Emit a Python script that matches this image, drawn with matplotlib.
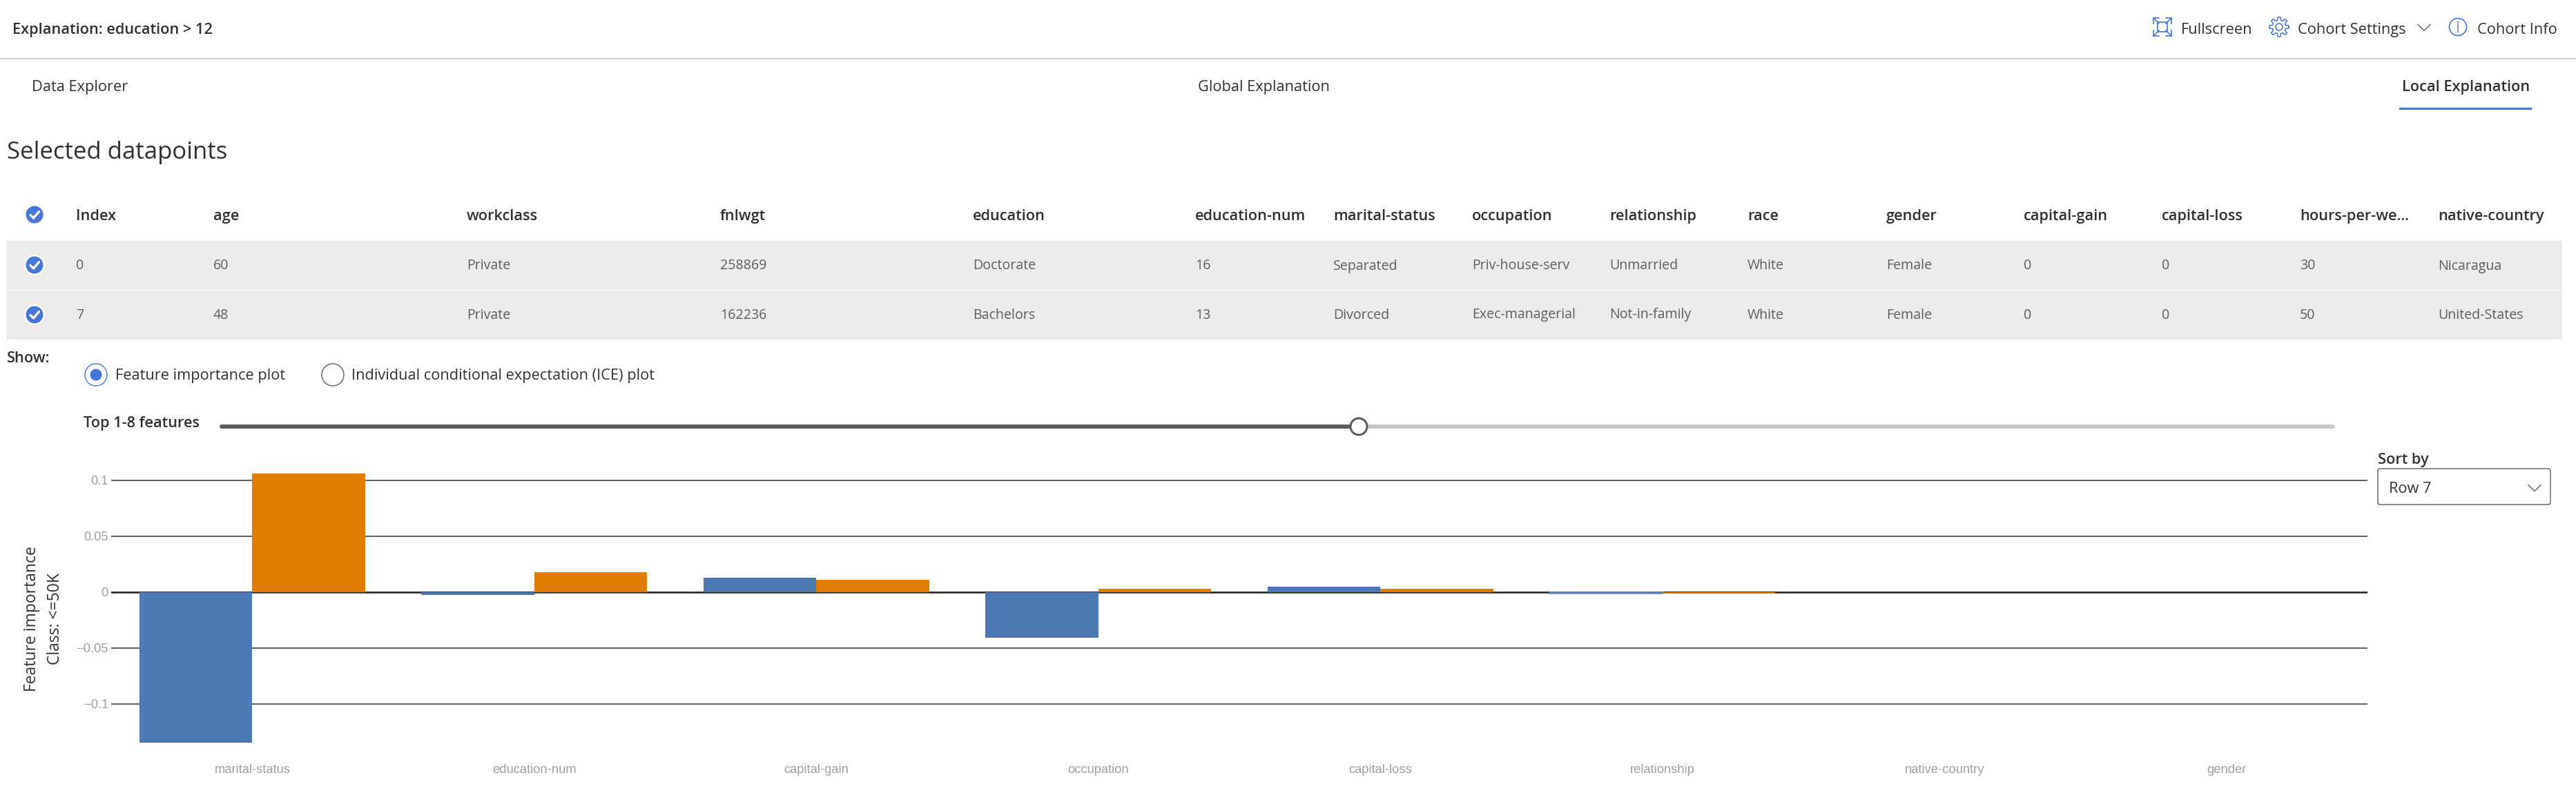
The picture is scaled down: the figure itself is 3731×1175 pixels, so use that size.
import matplotlib
matplotlib.use('Agg')
import matplotlib.pyplot as plt
import numpy as np
from matplotlib.patches import Circle, FancyBboxPatch, Rectangle

W, H = 3731, 1175
UI_FONT = 'Open Sans'
DARK = '#323130'
GREY = '#605e5c'
ACCENT = '#4777d6'

features = ['marital-status', 'education-num', 'capital-gain', 'occupation',
            'capital-loss', 'relationship', 'native-country', 'gender']
row_0 = [-0.135, -0.0025, 0.0128, -0.0406, 0.0048, -0.0013, 0, 0]
row_7 = [0.106, 0.0179, 0.0109, 0.003, 0.003, -0.0015, 0, 0]
y_ticks = [-0.1, -0.05, 0, 0.05, 0.1]
y_tick_labels = ['\u22120.1', '\u22120.05', '0', '0.05', '0.1']

columns = ['Index', 'age', 'workclass', 'fnlwgt', 'education', 'education-num',
           'marital-status', 'occupation', 'relationship', 'race', 'gender',
           'capital-gain', 'capital-loss', 'hours-per-we...', 'native-country']
table_row_0 = ['0', '60', 'Private', '258869', 'Doctorate', '16', 'Separated',
               'Priv-house-serv', 'Unmarried', 'White', 'Female', '0', '0', '30',
               'Nicaragua']
table_row_7 = ['7', '48', 'Private', '162236', 'Bachelors', '13', 'Divorced',
               'Exec-managerial', 'Not-in-family', 'White', 'Female', '0', '0', '50',
               'United-States']
column_x = [110, 309, 676, 1043, 1409, 1731, 1931, 2132, 2331, 2531, 2732, 2931,
            3131, 3331, 3531]

fig = plt.figure(figsize=(W / 100, H / 100), dpi=100, facecolor='white')


def label(x, y, s, size=15.7, color=DARK, weight='normal', ha='left'):
    ui.text(x, y + 1.5, s, fontsize=size, color=color, fontweight=weight, ha=ha,
            va='center', family=UI_FONT)


def check_circle(x, y, ring=False):
    if ring:
        ui.add_patch(Circle((x, y), 15, fc='white', ec='none'))
    ui.add_patch(Circle((x, y), 12.5, fc=ACCENT, ec='none'))
    ui.plot([x - 6, x - 1.5, x + 6.5], [y + 0.5, y + 5, y - 4.5], color='white',
            lw=2.4, solid_capstyle='round', solid_joinstyle='round')


def chevron(x, y, size=9):
    ui.plot([x - size, x, x + size], [y - size / 2, y + size / 2, y - size / 2],
            color=GREY, lw=1)


# page background layer, in pixel coordinates
ui = fig.add_axes([0, 0, 1, 1])
ui.set_xlim(0, W)
ui.set_ylim(H, 0)
ui.axis('off')

# top bar
label(18, 42, 'Explanation: education > 12', weight='semibold')
ui.plot([0, W], [85, 85], color='#cfcfcf', lw=1.4)
label(3159, 42, 'Fullscreen')
label(3328, 42, 'Cohort Settings')
label(3588, 42, 'Cohort Info')
chevron(3511, 40)

# fullscreen icon
ui.add_patch(Rectangle((3125, 32), 14, 14, fc='none', ec=ACCENT, lw=1.2))
for sx, sy in [(-1, -1), (1, -1), (-1, 1), (1, 1)]:
    cx, cy = 3132 + sx * 13, 39 + sy * 13
    ui.plot([cx, cx], [cy, cy - sy * 8], color=ACCENT, lw=1.2)
    ui.plot([cx, cx - sx * 8], [cy, cy], color=ACCENT, lw=1.2)
    ui.plot([cx, cx - sx * 8], [cy, cy - sy * 8], color=ACCENT, lw=1.2)

# gear icon
angle = np.linspace(0, 2 * np.pi, 241)
radius = 12 + 2.2 * np.clip(2.2 * np.cos(8 * angle), -1, 1)
ui.plot(3301 + radius * np.cos(angle), 39 + radius * np.sin(angle), color=ACCENT, lw=1.1)
ui.add_patch(Circle((3301, 39), 5, fc='none', ec=ACCENT, lw=1.1))

# info icon
ui.add_patch(Circle((3560, 39), 12.5, fc='none', ec=ACCENT, lw=1.2))
ui.plot([3560, 3560], [36, 46], color=ACCENT, lw=1.1)
ui.plot([3560, 3560], [31.5, 33], color=ACCENT, lw=1.2)

# tabs
label(46, 125, 'Data Explorer')
label(1735, 125, 'Global Explanation')
label(3479, 125, 'Local Explanation', weight='semibold')
ui.add_patch(Rectangle((3475, 155.5), 192, 3, fc=ACCENT, ec='none'))

label(10, 219, 'Selected datapoints', size=25)

# table
ui.add_patch(Rectangle((9, 349), 3702, 71, fc='#ecebe9', ec='none'))
ui.add_patch(Rectangle((9, 421), 3702, 71, fc='#ecebe9', ec='none'))
check_circle(50, 311)
check_circle(50, 384, ring=True)
check_circle(50, 456, ring=True)
for x, head, a, b in zip(column_x, columns, table_row_0, table_row_7):
    label(x, 312, head, weight='semibold')
    label(x, 384, a, size=14.1, color=GREY)
    label(x, 455, b, size=14.1, color=GREY)

# controls
label(10, 518, 'Show:', weight='semibold')
ui.add_patch(Circle((139, 543), 16, fc='white', ec=ACCENT, lw=1))
ui.add_patch(Circle((139, 543), 8.5, fc=ACCENT, ec='none'))
label(167, 543, 'Feature importance plot')
ui.add_patch(Circle((482, 543), 16, fc='white', ec=GREY, lw=1))
label(509, 543, 'Individual conditional expectation (ICE) plot')

label(121, 612, 'Top 1-8 features', weight='semibold')
ui.plot([321, 1968], [618, 618], color=GREY, lw=4.3, solid_capstyle='round')
ui.plot([1968, 3379], [618, 618], color='#c8c6c4', lw=4.3, solid_capstyle='round')
ui.add_patch(Circle((1968, 618), 12, fc='white', ec=GREY, lw=2.2, zorder=3))

label(3444, 665, 'Sort by', weight='semibold')
ui.add_patch(FancyBboxPatch((3444, 679), 250, 52, boxstyle='round,pad=0,rounding_size=3',
                            fc='white', ec=GREY, lw=1))
label(3460, 707, 'Row 7')
chevron(3671, 707)

# bar chart: plot area runs from x=161 to x=3429, y=660 to y=1090 on the page
ax = fig.add_axes([161 / W, 1 - 1090 / H, (3429 - 161) / W, 430 / H])
ax.patch.set_alpha(0)
x = np.arange(len(features))
bars_0 = ax.bar(x - 0.2, row_0, 0.4, color='#4c78b4', zorder=3)
bars_7 = ax.bar(x + 0.2, row_7, 0.4, color='#e07c00', zorder=3)
bars_0[5].set_edgecolor('#5f87c0')
bars_0[5].set_linewidth(1.08)
ax.set_xlim(-0.5, len(features) - 0.5)
ax.set_ylim(-0.1434, 0.1221)
ax.set_xticks(x, features)
ax.set_yticks(y_ticks, y_tick_labels)
ax.tick_params(axis='both', length=0, labelcolor='#a0a0a0', labelsize=13.2)
ax.tick_params(axis='x', pad=12)
ax.tick_params(axis='y', pad=3)
for tick in ax.get_xticklabels() + ax.get_yticklabels():
    tick.set_family('Liberation Sans')
ax.grid(axis='y', color='#5f5f5f', lw=1.4, zorder=1)
ax.set_axisbelow(True)
ax.axhline(0, color='#2b2b2b', lw=1.8, zorder=2)
for spine in ax.spines.values():
    spine.set_visible(False)

ui.text(63, 897, 'Feature importance\nClass: <=50K', rotation=90, ha='center', va='center',
        fontsize=16.5, color=DARK, family=UI_FONT, linespacing=1.55, multialignment='center')

fig.savefig('out.png', dpi=100)
